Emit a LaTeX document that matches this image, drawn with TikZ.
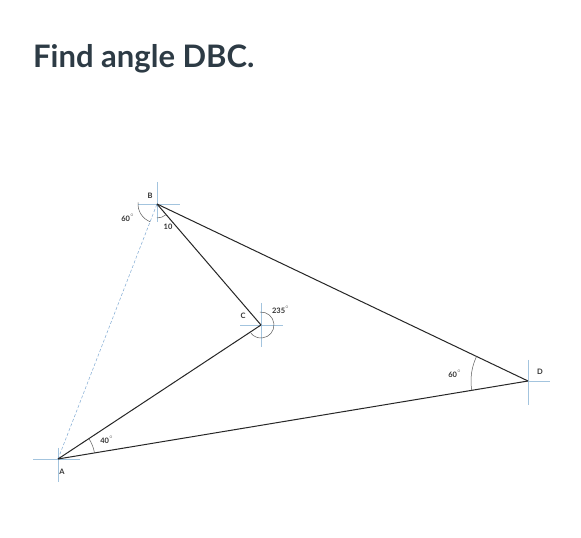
\documentclass[tikz,border=0pt]{standalone}
\usepackage{fontspec}
\setmainfont{Lato}
\definecolor{titlec}{HTML}{2D3B45}
\definecolor{crossc}{HTML}{A3C4DE}
\definecolor{dashc}{HTML}{7EA9D3}
\begin{document}
\begin{tikzpicture}[x=1pt,y=1pt,
  seg/.style={draw=black!85,line width=1pt},
  hair/.style={draw=crossc,line width=0.7pt},
  ang/.style={draw=black!65,line width=0.5pt},
  lab/.style={font=\fontsize{7.5}{8}\selectfont\bfseries,text=black!80,inner sep=0pt}]
\useasboundingbox[fill=white] (0,0) rectangle (581,538);
\node[anchor=base west,inner sep=0pt,text=titlec,font=\fontsize{31}{36}\selectfont\bfseries] (title) at (33,470) {Find angle DBC.};
\coordinate (A) at (58,79);
\coordinate (B) at (157,334);
\coordinate (C) at (261,213);
\coordinate (D) at (528,157);
% crosshairs
\draw[hair] (138,334) -- (180,334); \draw[hair] (157,356) -- (157,316);
\draw[hair] (240,213) -- (283,213); \draw[hair] (261,235) -- (261,191);
\draw[hair] (528,178) -- (528,133); \draw[hair] (528,157) -- (550,157);
\draw[hair] (33,79) -- (80,79); \draw[hair] (58,90) -- (58,56);
% segments
\draw[draw=dashc,line width=0.5pt,densely dashed] (A) -- (B);
\draw[seg] (B) -- (C);
\draw[seg] (C) -- (A);
\draw[seg] (B) -- (D);
\draw[seg] (A) -- (D);
% angle arcs
\draw[ang] (B) ++(175:19pt) arc[start angle=175,end angle=249,radius=19pt];
\draw[ang] (B) ++(270:14pt) arc[start angle=270,end angle=311,radius=14pt];
\draw[ang] (C) ++(95:13pt) arc[start angle=95,end angle=-140,radius=13pt];
\draw[ang] (D) ++(154.5:57pt) arc[start angle=154.5,end angle=189.4,radius=57pt];
\draw[ang] (A) ++(9.4:37pt) arc[start angle=9.4,end angle=33.4,radius=37pt];
% labels
\node[lab] (lB) at (150,342) {B};
\node[lab] (lB60) at (128,320) {60\textsuperscript{\tiny$^\circ$}};
\node[lab] (lB10) at (168,311) {10};
\node[lab] (lC) at (243,222) {C};
\node[lab] (lC235) at (281,228) {235\textsuperscript{\tiny$^\circ$}};
\node[lab] (lD) at (540,166) {D};
\node[lab] (lD60) at (455,164) {60\textsuperscript{\tiny$^\circ$}};
\node[lab] (lA) at (62,66) {A};
\node[lab] (lA40) at (107,98) {40\textsuperscript{\tiny$^\circ$}};
\end{tikzpicture}
\end{document}
